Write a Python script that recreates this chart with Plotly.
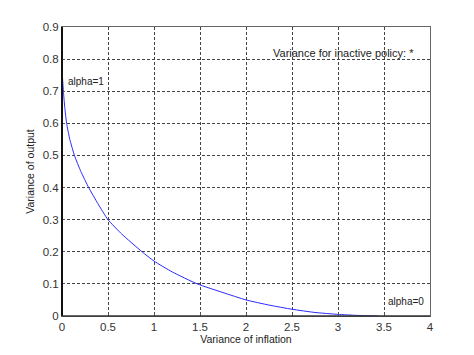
import plotly.graph_objects as go

# Frontier: variance of inflation vs variance of output
var_inflation = [0, 0.004, 0.015, 0.03, 0.05, 0.085, 0.135, 0.205, 0.29, 0.39, 0.5, 0.65, 0.87,
                 1.0, 1.2, 1.47, 1.75, 2.0, 2.25, 2.5, 2.75, 3.0, 3.2, 3.44]
var_output = [0.79, 0.75, 0.70, 0.65, 0.60, 0.55, 0.50, 0.45, 0.40, 0.35, 0.30, 0.255, 0.20,
              0.171, 0.137, 0.10, 0.073, 0.05, 0.034, 0.021, 0.011, 0.005, 0.002, 0.0]

x_ticks = [0, 0.5, 1, 1.5, 2, 2.5, 3, 3.5, 4]
x_tick_text = ["0", "0.5", "1", "1.5", "2", "2.5", "3", "3.5", "4"]
y_ticks = [0, 0.1, 0.2, 0.3, 0.4, 0.5, 0.6, 0.7, 0.8, 0.9]
y_tick_text = ["0", "0.1", "0.2", "0.3", "0.4", "0.5", "0.6", "0.7", "0.8", "0.9"]

font = "Liberation Sans, Arial, sans-serif"

fig = go.Figure()
fig.add_trace(go.Scatter(x=var_inflation, y=var_output, mode="lines",
                         line=dict(color="#2a2aff", width=1, shape="spline", smoothing=0.5),
                         showlegend=False, hoverinfo="skip"))

axis_common = dict(showgrid=True, gridcolor="#444", griddash="3px,2px", gridwidth=1,
                   zeroline=False, showline=True, linecolor="#666", linewidth=1,
                   mirror=True, ticks="inside", ticklen=3, tickcolor="#555",
                   tickfont=dict(family=font, size=11.5, color="#333"))

fig.update_xaxes(range=[0, 4], tickvals=x_ticks, ticktext=x_tick_text,
                 title=dict(text="Variance of inflation", standoff=1,
                            font=dict(family=font, size=10.5, color="#222")),
                 **axis_common)
fig.update_yaxes(range=[0, 0.9], tickvals=y_ticks, ticktext=y_tick_text,
                 title=dict(text="Variance of output", standoff=6,
                            font=dict(family=font, size=10.5, color="#222")),
                 **axis_common)

# thicker dark left/bottom axis lines like the reference
fig.add_shape(type="line", xref="paper", yref="paper", x0=0, x1=0, y0=0, y1=1,
              line=dict(color="#111", width=2))
fig.add_shape(type="line", xref="paper", yref="paper", x0=0, x1=1, y0=0, y1=0,
              line=dict(color="#333", width=1.5))

ann_font = dict(family=font, size=10, color="#222")
fig.add_annotation(x=0.04, y=0.73, text="alpha=1", showarrow=False,
                   xanchor="left", yanchor="middle", font=ann_font)
fig.add_annotation(x=3.52, y=0.044, text="alpha=0", showarrow=False,
                   xanchor="left", yanchor="middle", font=ann_font)
fig.add_annotation(x=2.27, y=0.82, text="Variance for inactive policy: *", showarrow=False,
                   xanchor="left", yanchor="middle",
                   font=dict(family=font, size=11, color="#222"))

fig.update_layout(width=474, height=355, margin=dict(l=62, r=44, t=27, b=39),
                  paper_bgcolor="white", plot_bgcolor="white")

fig.write_html("out.html")
